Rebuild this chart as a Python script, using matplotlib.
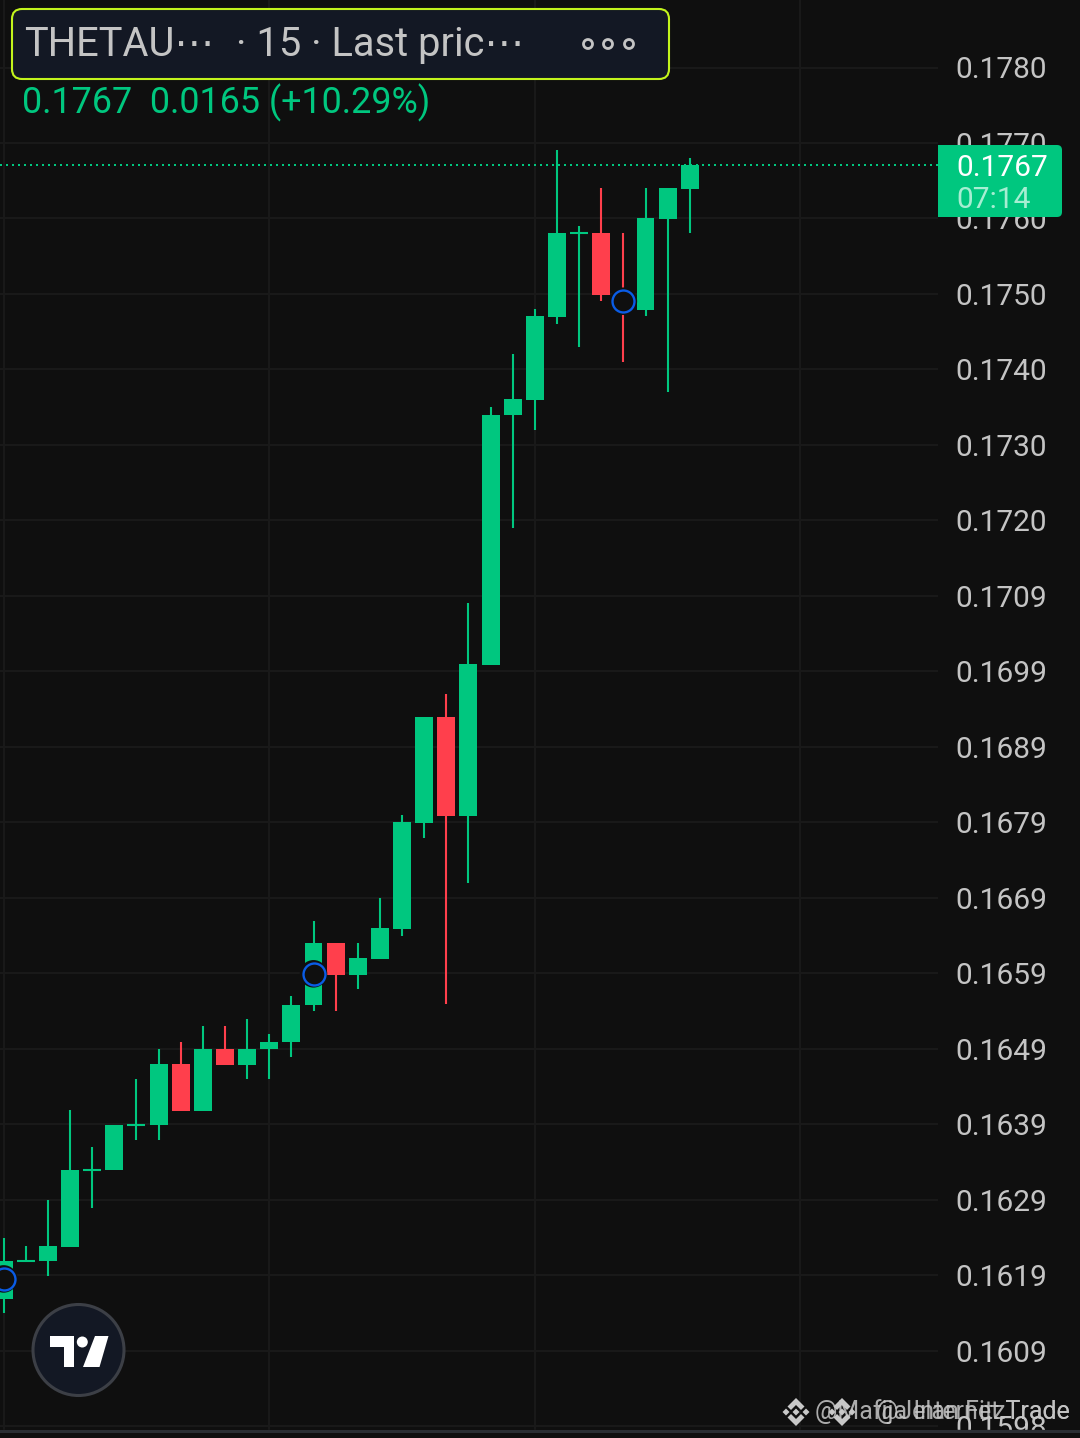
import numpy as np
import matplotlib
matplotlib.use("Agg")
import matplotlib.pyplot as plt
from matplotlib.patches import Circle, FancyBboxPatch, Polygon, Rectangle

plt.rcParams['font.family'] = ['Roboto', 'DejaVu Sans']

# candles, 15 min
opens = [0.16161, 0.16212, 0.16212, 0.16231, 0.16333, 0.16333, 0.16393, 0.16393,
         0.16474, 0.16411, 0.16494, 0.16473, 0.16494, 0.16503, 0.16553, 0.16635,
         0.16592, 0.16614, 0.16654, 0.16795, 0.16936, 0.16804, 0.17005, 0.17338,
         0.17357, 0.17468, 0.17580, 0.17580, 0.17492, 0.17477, 0.17598, 0.17638]
closes = [0.16212, 0.16212, 0.16232, 0.16333, 0.16333, 0.16393, 0.16393, 0.16474,
          0.16411, 0.16494, 0.16473, 0.16494, 0.16503, 0.16553, 0.16635, 0.16592,
          0.16615, 0.16655, 0.16796, 0.16936, 0.16804, 0.17006, 0.17338, 0.17359,
          0.17469, 0.17580, 0.17580, 0.17497, 0.17489, 0.17600, 0.17640, 0.17670]
highs = [0.16242, 0.16232, 0.16293, 0.16413, 0.16364, 0.16393, 0.16454, 0.16494,
         0.16503, 0.16525, 0.16525, 0.16534, 0.16514, 0.16564, 0.16664, 0.16635,
         0.16635, 0.16695, 0.16805, 0.16936, 0.16966, 0.17087, 0.17348, 0.17419,
         0.17479, 0.17690, 0.17589, 0.17640, 0.17580, 0.17640, 0.17640, 0.17680]
lows = [0.16143, 0.16212, 0.16192, 0.16231, 0.16282, 0.16333, 0.16373, 0.16373,
        0.16411, 0.16411, 0.16473, 0.16454, 0.16454, 0.16483, 0.16545, 0.16545,
        0.16574, 0.16614, 0.16644, 0.16775, 0.16554, 0.16715, 0.17005, 0.17187,
        0.17318, 0.17459, 0.17428, 0.17489, 0.17408, 0.17469, 0.17368, 0.17580]

tick_labels = ["0.1780", "0.1770", "0.1760", "0.1750", "0.1740", "0.1730", "0.1720",
               "0.1709", "0.1699", "0.1689", "0.1679", "0.1669", "0.1659", "0.1649",
               "0.1639", "0.1629", "0.1619", "0.1609", "0.1598"]
last_price = 0.1767
marker_bars = [0, 14, 28]
marker_prices = [0.16188, 0.16594, 0.17489]

BG = "#0f0f0f"
GRID = "#1a1a1a"
GREEN = "#00c77f"
RED = "#ff3f4c"
LIGHT = "#c4c4c4"
WM = "#c8c8c8"

W, H = 1080, 1438
fig = plt.figure(figsize=(W / 100, H / 100), dpi=100, facecolor=BG)

# main chart, ends where the price scale starts
ax = fig.add_axes([0, 8 / H, 938 / W, 1 - 8 / H])
ax.set_facecolor(BG)
ax.set_xlim(-0.165, 42.215)
ax.set_ylim(0.1780 - (1430 - 67.5) / 75150, 0.1780 + 67.5 / 75150)

ticks = np.linspace(0.1780, 0.15992, len(tick_labels))
ax.yaxis.tick_right()
ax.set_yticks(ticks)
ax.set_yticklabels(tick_labels, fontsize=21.5, color=LIGHT)
ax.tick_params(axis='y', length=0, pad=12.5)
ax.set_xticks([0, 12, 24, 36])
ax.tick_params(axis='x', length=0, labelbottom=False)
ax.grid(True, color=GRID, linewidth=1.4)
ax.set_axisbelow(True)
for s in ax.spines.values():
    s.set_visible(False)

for i in range(len(opens)):
    o, c = opens[i], closes[i]
    col = GREEN if c >= o else RED
    ax.vlines(i, lows[i], highs[i], color=col, linewidth=1.5, zorder=3)
    if o == c:
        ax.hlines(o, i - 0.405, i + 0.405, color=col, linewidth=1.5, zorder=3)
    else:
        ax.bar(i, abs(c - o), bottom=min(o, c), width=0.81, color=col, linewidth=0, zorder=3)

ax.axhline(last_price, color=GREEN, linewidth=1.44, linestyle=(0, (1, 2)), zorder=2)

# blue event markers
ax.scatter(marker_bars, marker_prices, s=300, facecolor="none", edgecolor=BG, linewidth=2.5, zorder=4)
ax.scatter(marker_bars, marker_prices, s=250, facecolor=BG, edgecolor="#0a5ce6", linewidth=1.7, zorder=5)

# overlay in pixel coordinates for the app widgets
ov = fig.add_axes([0, 0, 1, 1])
ov.set_xlim(0, W)
ov.set_ylim(H, 0)
ov.axis('off')
ov.patch.set_alpha(0)

ov.add_patch(Rectangle((0, 1430), W, 8, color=BG, zorder=5))
ov.add_patch(Rectangle((0, 1430), W, 3, color="#2a2e33", zorder=6, linewidth=0))

# header box
ov.add_patch(FancyBboxPatch((20, 17), 641, 54, boxstyle="round,pad=8,rounding_size=10",
                            facecolor="#131824", edgecolor="#c3f41c", linewidth=1.5))
ov.text(24, 44.5, "THETAU\u22ef", fontsize=28.7, color=LIGHT, va='center')
ov.text(236, 44.5, "\u00b7 15 \u00b7 Last pric\u22ef", fontsize=28.7, color=LIGHT, va='center')
for cx in [588, 608, 629]:
    ov.add_patch(Circle((cx, 44), 4.5, facecolor="none", edgecolor=LIGHT, linewidth=2))
ov.text(22, 103, "0.1767  0.0165 (+10.29%)", fontsize=25.8, color=GREEN, va='center')

# last price tag
ov.add_patch(FancyBboxPatch((943, 150), 114, 62, boxstyle="round,pad=5,rounding_size=5",
                            facecolor=GREEN, linewidth=0, zorder=3))
ov.add_patch(Rectangle((938, 145), 20, 72, facecolor=GREEN, linewidth=0, zorder=3))
ov.text(956, 167.5, "0.1767", fontsize=21.5, color="white", va='center', zorder=4)
ov.text(956, 200, "07:14", fontsize=21.5, color="#a6eed2", va='center', zorder=4)

# tradingview badge
ov.add_patch(Circle((78.5, 1350), 45.5, facecolor="#131824", edgecolor="#3c3f46", linewidth=2.2))
ov.add_patch(Polygon([(50, 1336), (74, 1336), (74, 1367), (64, 1367), (64, 1347), (50, 1347)], color="white", linewidth=0))
ov.add_patch(Circle((82.3, 1342), 5.5, color="white", linewidth=0))
ov.add_patch(Polygon([(95, 1336), (108.5, 1336), (99.5, 1367), (83, 1367)], color="white", linewidth=0))


# binance style mark + handle, two stacked watermarks
def diamond_mark(cx, cy):
    for dx, r in [(-10, 3.5), (0, 3.5), (10, 3.5)]:
        ov.add_patch(Polygon([(cx + dx, cy - r), (cx + dx + r, cy), (cx + dx, cy + r), (cx + dx - r, cy)],
                             color=WM, linewidth=0, zorder=7))
    for sign in [-1, 1]:
        pts = [(0, 14), (8.5, 5.5), (5, 2), (0, 7), (-5, 2), (-8.5, 5.5)]
        ov.add_patch(Polygon([(cx + a, cy + sign * b) for a, b in pts], color=WM, linewidth=0, zorder=7))


diamond_mark(796, 1412)
diamond_mark(842, 1412)
ov.text(1070, 1412, "@Mafija Internet Trade", ha='right', fontsize=18, color=WM, alpha=0.85, va='center', zorder=7)
ov.text(1070, 1412, "@Jelan FitzTrade", ha='right', fontsize=18, color=WM, alpha=0.85, va='center', zorder=7)

fig.savefig("out.png", dpi=100, facecolor=BG)
